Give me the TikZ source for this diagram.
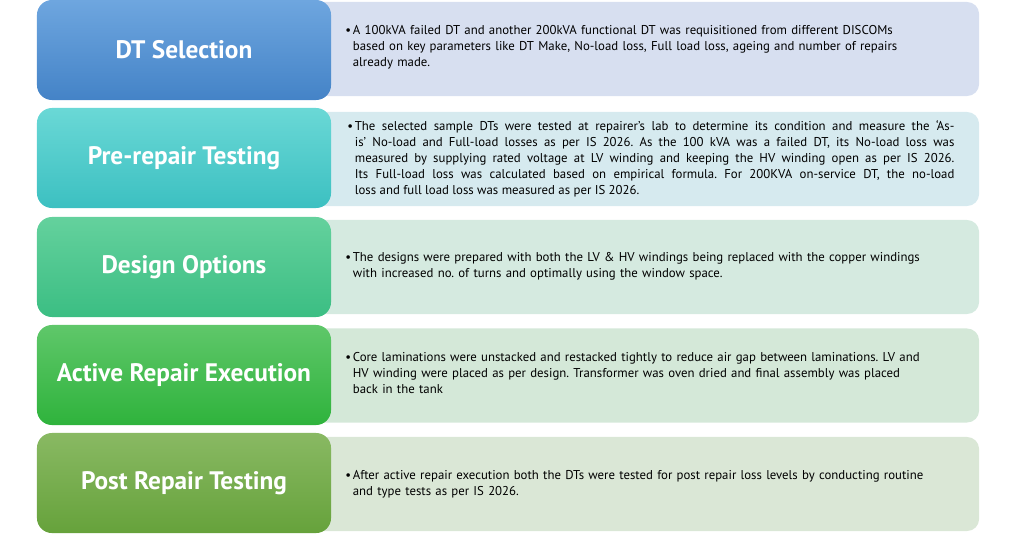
\documentclass[tikz,border=0pt]{standalone}
\usepackage{fontspec}
\setmainfont{PT Sans}
\usepackage{tikz}

\definecolor{selTop}{HTML}{6EA6DF}
\definecolor{selBot}{HTML}{4483C7}
\definecolor{preTop}{HTML}{6AD8D6}
\definecolor{preBot}{HTML}{3CC0C1}
\definecolor{desTop}{HTML}{64D19D}
\definecolor{desBot}{HTML}{3BBE83}
\definecolor{actTop}{HTML}{5FC76A}
\definecolor{actBot}{HTML}{2FB33C}
\definecolor{postTop}{HTML}{89B963}
\definecolor{postBot}{HTML}{66A23B}
\definecolor{selBg}{HTML}{D7DFF0}
\definecolor{preBg}{HTML}{D6EAEF}
\definecolor{desBg}{HTML}{D5EAE0}
\definecolor{actBg}{HTML}{D4E8D8}
\definecolor{postBg}{HTML}{DAE7D6}

\begin{document}
\frenchspacing
\begin{tikzpicture}[x=0.025cm, y=-0.025cm,
		stage/.style={rounded corners=0.375cm, minimum width=7.35cm, minimum height=2.5cm,
			inner sep=0pt, text=white, font=\fontsize{18}{22}\selectfont\bfseries},
		info/.style={rounded corners=0.3cm, minimum width=16.975cm, minimum height=2.35cm, inner sep=0pt},
		note/.style={anchor=west, text width=15.8cm, align=left, inner sep=0pt,
			font=\fontsize{9.1}{11.4}\selectfont}]
			\useasboundingbox (0, 0) rectangle (1024, 534);
			\newcommand{\bul}{\hangindent=0.19cm\hangafter=1\makebox[0.19cm][l]{\textbullet}}

			% DT selection
			\node [info, fill=selBg] (selInfo) at (639.5, 49) {};
			\node [stage, top color=selTop, bottom color=selBot] (sel) at (184, 50) {DT Selection};
			\node [note] (selNote) at (345, 47) {\bul A 100kVA failed DT and another 200kVA functional DT was requisitioned from different DISCOMs\newline
				based on key parameters like DT Make, No-load loss, Full load loss, ageing and number of repairs\newline
				already made.\par};

			% pre-repair testing
			\node [info, fill=preBg] (preInfo) at (639.5, 159) {};
			\node [stage, top color=preTop, bottom color=preBot] (pre) at (184, 158) {Pre-repair Testing};
			\node [note, text width=15.175cm, align=justify] (preNote) at (347, 158.5) {\bul The selected sample DTs were tested at repairer’s lab to determine its condition and measure the ‘As-\linebreak
				is’ No-load and Full-load losses as per IS 2026. As the 100 kVA was a failed DT, its No-load loss was\linebreak
				measured by supplying rated voltage at LV winding and keeping the HV winding open as per IS 2026.\linebreak
				Its Full-load loss was calculated based on empirical formula. For 200KVA on-service DT, the no-load\linebreak
				loss and full load loss was measured as per IS 2026.\par};

			% design options
			\node [info, fill=desBg] (desInfo) at (639.5, 267) {};
			\node [stage, top color=desTop, bottom color=desBot] (des) at (184, 267) {Design Options};
			\node [note] (desNote) at (345, 266) {\bul The designs were prepared with both the LV \& HV windings being replaced with the copper windings\newline
				with increased no. of turns and optimally using the window space.\par};

			% active repair execution
			\node [info, fill=actBg] (actInfo) at (639.5, 375.5) {};
			\node [stage, top color=actTop, bottom color=actBot] (act) at (184, 375) {Active Repair Execution};
			\node [note] (actNote) at (345, 373) {\bul Core laminations were unstacked and restacked tightly to reduce air gap between laminations. LV and\newline
				HV winding were placed as per design. Transformer was oven dried and final assembly was placed\newline
				back in the tank\par};

			% post repair testing
			\node [info, fill=postBg] (postInfo) at (639.5, 484) {};
			\node [stage, top color=postTop, bottom color=postBot] (post) at (184, 483) {Post Repair Testing};
			\node [note] (postNote) at (345, 484) {\bul After active repair execution both the DTs were tested for post repair loss levels by conducting routine\newline
				and type tests as per IS 2026.\par};
		\end{tikzpicture}
\end{document}
